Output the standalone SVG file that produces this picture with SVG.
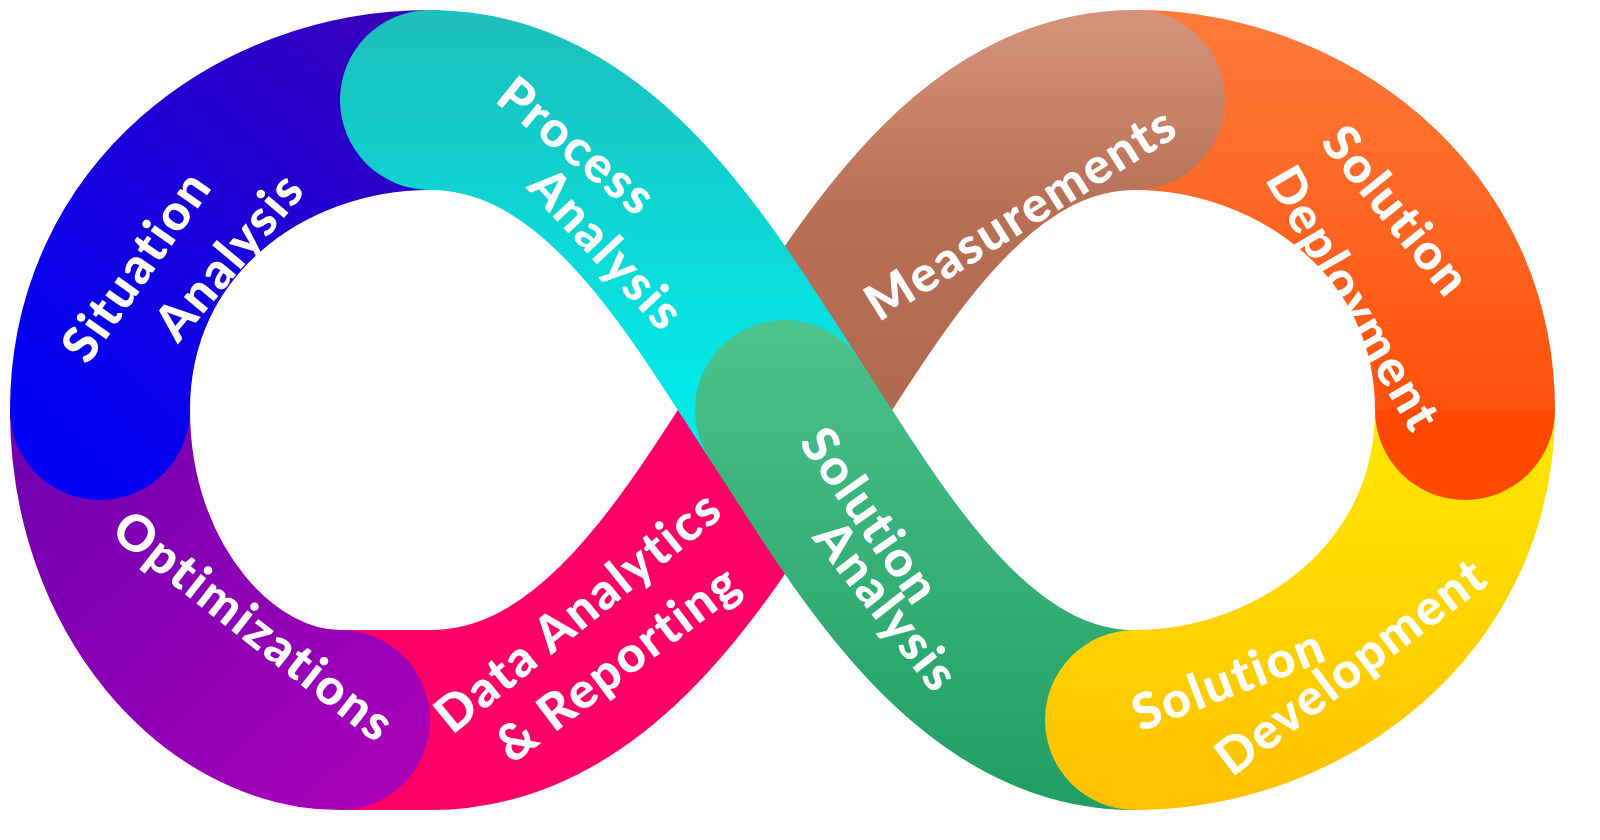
<svg xmlns="http://www.w3.org/2000/svg" width="1600" height="840" viewBox="0 0 1600 840">
<defs>
<linearGradient id="gBlue" gradientUnits="userSpaceOnUse" x1="430" y1="20" x2="60" y2="420"><stop offset="0" stop-color="#3a00b8"/><stop offset="1" stop-color="#0000f5"/></linearGradient>
<linearGradient id="gPurple" gradientUnits="userSpaceOnUse" x1="60" y1="420" x2="400" y2="780"><stop offset="0" stop-color="#7000b0"/><stop offset="1" stop-color="#a800b8"/></linearGradient>
<linearGradient id="gTeal" gradientUnits="userSpaceOnUse" x1="0" y1="20" x2="0" y2="410"><stop offset="0" stop-color="#1cc0bc"/><stop offset="1" stop-color="#00eaea"/></linearGradient>
<linearGradient id="gGreen" gradientUnits="userSpaceOnUse" x1="0" y1="330" x2="0" y2="810"><stop offset="0" stop-color="#4cc28c"/><stop offset="1" stop-color="#1f9e62"/></linearGradient>
<linearGradient id="gBrown" gradientUnits="userSpaceOnUse" x1="0" y1="20" x2="0" y2="400"><stop offset="0" stop-color="#d4927a"/><stop offset="0.5" stop-color="#b87055"/><stop offset="1" stop-color="#b06a50"/></linearGradient>
<linearGradient id="gOrange" gradientUnits="userSpaceOnUse" x1="0" y1="20" x2="0" y2="500"><stop offset="0" stop-color="#ff7a3a"/><stop offset="1" stop-color="#ff4800"/></linearGradient>
<linearGradient id="gYellow" gradientUnits="userSpaceOnUse" x1="0" y1="420" x2="0" y2="810"><stop offset="0" stop-color="#ffe800"/><stop offset="1" stop-color="#ffc000"/></linearGradient>
<style>
.b{fill:none;stroke-width:180}
.t{fill:#fff;font-family:"Lato","Noto Sans",sans-serif;font-weight:900;font-size:50px;text-anchor:middle;dominant-baseline:central;letter-spacing:2px}
</style>
</defs>
<g id="bands">
<path class="b" stroke="url(#gBrown)" d="M785,410 C870,280 970,100 1135,100"/>
<path class="b" stroke="#ff0068" d="M340,720 C370,720 400,720 430,720 C600,720 700,540 785,410"/>
<path class="b" stroke="url(#gPurple)" stroke-linecap="round" d="M100,410 C100,590 220,720 340,720"/>
<path class="b" stroke="url(#gBlue)" stroke-linecap="round" d="M430,100 C260,100 100,220 100,410"/>
<path class="b" stroke="url(#gTeal)" stroke-linecap="round" d="M430,100 C600,100 700,280 785,410"/>
<path class="b" stroke="url(#gGreen)" stroke-linecap="round" d="M785,410 C870,540 970,720 1135,720"/>
<path class="b" stroke="url(#gYellow)" stroke-linecap="round" d="M1135,720 C1300,720 1465,600 1465,410"/>
<path class="b" stroke="url(#gOrange)" d="M1135,100 C1300,100 1465,220 1465,410"/>
<path d="M1375,410 A90,90 0 0 0 1555,410 Z" fill="#ff4800"/>
<path d="M1135,10 A90,90 0 0 1 1135,190 Z" fill="url(#gBrown)"/>
</g>
<g id="n-situation"><text class="t" transform="translate(135,265) rotate(-55)">Situation</text><text class="t" transform="translate(228,255) rotate(-50)">Analysis</text></g>
<g id="n-process"><text class="t" transform="translate(578,145) rotate(39)">Process</text><text class="t" transform="translate(608,248) rotate(47)">Analysis</text></g>
<g id="n-measurements"><text class="t" transform="translate(1020,212) rotate(-32)">Measurements</text></g>
<g id="n-deployment"><text class="t" transform="translate(1398,210) rotate(51)">Solution</text><text class="t" transform="translate(1355,298) rotate(60)">Deployment</text></g>
<g id="n-solanalysis"><text class="t" transform="translate(872,515) rotate(55)">Solution</text><text class="t" transform="translate(888,605) rotate(52)">Analysis</text></g>
<g id="n-development"><text class="t" transform="translate(1228,678) rotate(-21)">Solution</text><text class="t" transform="translate(1350,665) rotate(-37)">Development</text></g>
<g id="n-optimizations"><text class="t" transform="translate(255,625) rotate(38)">Optimizations</text></g>
<g id="n-data"><text class="t" transform="translate(577,610) rotate(-39)">Data Analytics</text><text class="t" transform="translate(617,662) rotate(-37)">&amp; Reporting</text></g>
</svg>
